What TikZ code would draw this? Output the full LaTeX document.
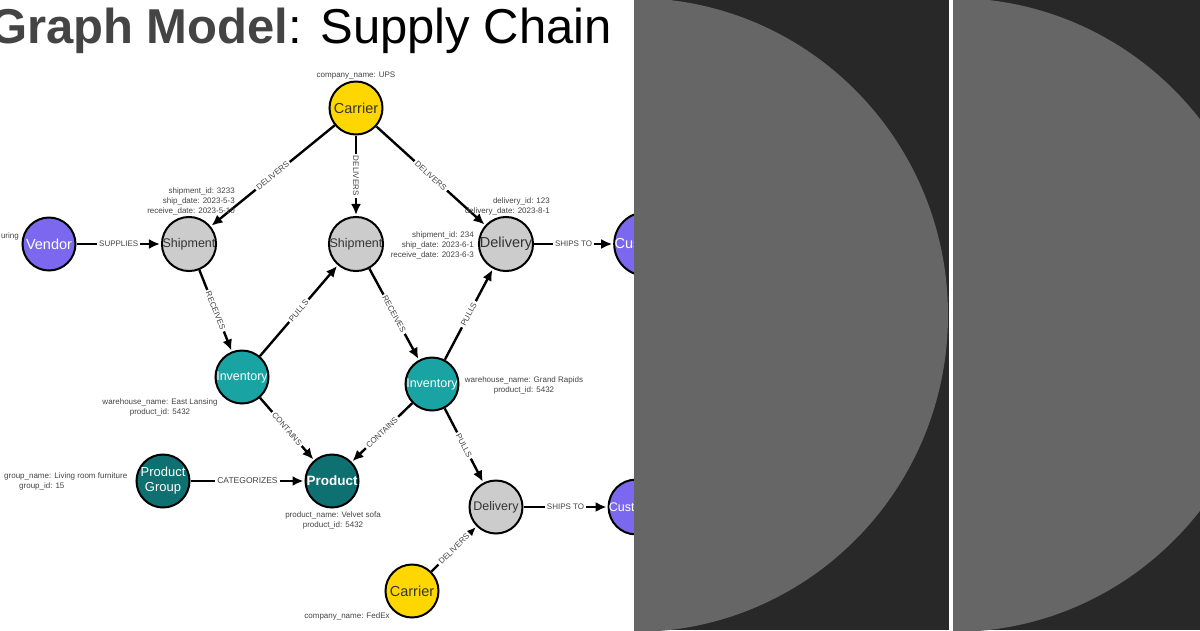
\documentclass[tikz,border=0pt]{standalone}
\usepackage{fontspec}
\setmainfont{Liberation Sans}
\usetikzlibrary{arrows.meta}
\definecolor{gnode}{HTML}{CCCCCC}
\definecolor{inv}{HTML}{1AA3A3}
\definecolor{prod}{HTML}{0E7070}
\definecolor{carr}{HTML}{FFD700}
\definecolor{purp}{HTML}{7B68EE}
\definecolor{lbl}{HTML}{444444}
\definecolor{dark}{HTML}{282828}
\definecolor{pan}{HTML}{666666}
\begin{document}
\begin{tikzpicture}[x=1pt,y=-1pt,
  nd/.style={circle,draw=black,line width=2pt,minimum size=53pt,inner sep=0pt,font=\fontsize{12.5}{13.5}\selectfont,align=center},
  gray/.style={nd,fill=gnode,text=black!80},
  invn/.style={nd,fill=inv,text=white},
  prodn/.style={nd,fill=prod,text=white},
  carn/.style={nd,fill=carr,text=black!80,font=\fontsize{14.5}{15}\selectfont},
  purn/.style={nd,fill=purp,text=white,font=\fontsize{14.5}{15}\selectfont},
  e/.style={line width=2.4pt,-{Latex[length=11pt,width=10pt]},shorten >=1pt},
  el/.style={fill=white,inner sep=2pt,font=\fontsize{8}{9}\selectfont,text=lbl,sloped},
  pr/.style={font=\fontsize{8}{10}\selectfont,text=lbl,inner sep=0pt,align=right}]
\useasboundingbox (0,0) rectangle (1200,630);
\fill[white] (0,0) rectangle (1200,630);
% title
\node[anchor=base east,inner sep=0pt,font=\fontsize{49}{52}\selectfont] (title) at (612,43)
  {\textcolor{lbl}{\textbf{Graph Model}}: Supply Chain};
% nodes
\node[carn] (c1) at (356,108) {Carrier};
\node[purn] (v) at (49,244) {Vendor};
\node[gray] (s1) at (189,244) {Shipment};
\node[gray] (s2) at (356,244) {Shipment};
\node[gray,font=\fontsize{14.5}{15}\selectfont] (d1) at (506,244) {Delivery};
\node[purn] (cu1) at (646,244) {Customer};
\node[invn] (i1) at (242,377) {Inventory};
\node[invn] (i2) at (432,384) {Inventory};
\node[prodn,font=\fontsize{13}{15}\selectfont] (pg) at (163,481) {Product\\Group};
\node[prodn,font=\bfseries\fontsize{13.5}{14}\selectfont] (p) at (332,481) {Product};
\node[gray] (d2) at (496,507) {Delivery};
\node[purn,font=\fontsize{12.5}{13}\selectfont] (cu2) at (636,507) {Customer};
\node[carn] (c2) at (412,591) {Carrier};
% edges
\draw[e] (c1) -- node[el]{DELIVERS} (s1);
\draw[e] (c1) -- node[el]{DELIVERS} (s2);
\draw[e] (c1) -- node[el]{DELIVERS} (d1);
\draw[e] (v) -- node[el]{SUPPLIES} (s1);
\draw[e] (d1) -- node[el]{SHIPS TO} (cu1);
\draw[e] (s1) -- node[el]{RECEIVES} (i1);
\draw[e] (i1) -- node[el]{PULLS} (s2);
\draw[e] (s2) -- node[el]{RECEIVES} (i2);
\draw[e] (i2) -- node[el]{PULLS} (d1);
\draw[e] (i1) -- node[el]{CONTAINS} (p);
\draw[e] (i2) -- node[el]{CONTAINS} (p);
\draw[e] (i2) -- node[el]{PULLS} (d2);
\draw[e] (pg) -- node[el,font=\fontsize{8.5}{9}\selectfont]{CATEGORIZES} (p);
\draw[e] (d2) -- node[el]{SHIPS TO} (cu2);
\draw[e] (c2) -- node[el]{DELIVERS} (d2);
% properties
\node[pr,anchor=south] (pc1) at (356,79) {company\_name: UPS};
\node[pr,anchor=south east] (ps1) at (235,215) {shipment\_id: 3233\\ship\_date: 2023-5-3\\receive\_date: 2023-5-10};
\node[pr,anchor=east] (ps2) at (474,245) {shipment\_id: 234\\ship\_date: 2023-6-1\\receive\_date: 2023-6-3};
\node[pr,anchor=south east] (pd1) at (550,215) {delivery\_id: 123\\delivery\_date: 2023-8-1};
\node[pr,anchor=east] (pv) at (19,236) {uring};
\node[pr,align=center,anchor=north] (pi1) at (160,398) {warehouse\_name: East Lansing\\product\_id: 5432};
\node[pr,align=center,anchor=north] (pi2) at (524,376) {warehouse\_name: Grand Rapids\\product\_id: 5432};
\node[pr,anchor=west] (pg1) at (4,476) {group\_name: Living room furniture};
\node[pr,anchor=west] (pg2) at (19,486) {group\_id: 15};
\node[pr,align=center,anchor=north] (pp) at (333,511) {product\_name: Velvet sofa\\product\_id: 5432};
\node[pr,anchor=north] (pc2) at (347,612) {company\_name: FedEx};
% right panels
\fill[dark] (634,0) rectangle (949,630);
\fill[white] (949,0) rectangle (953,630);
\fill[dark] (953,0) rectangle (1200,630);
\begin{scope}
\clip (634,0) rectangle (949,630);
\fill[pan] (634,315) ellipse [x radius=314, y radius=317];
\end{scope}
\begin{scope}
\clip (953,0) rectangle (1200,630);
\fill[pan] (953,315) ellipse [x radius=314, y radius=317];
\end{scope}
\end{tikzpicture}
\end{document}
